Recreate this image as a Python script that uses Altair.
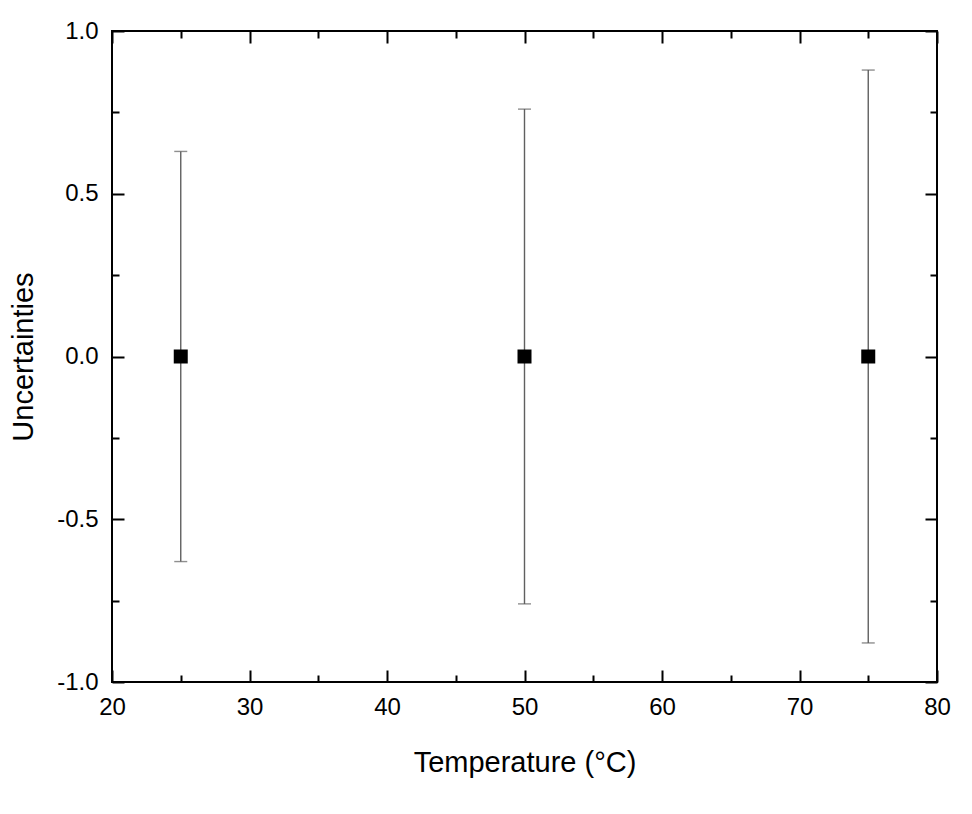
import altair as alt
import pandas as pd

temps = [25, 50, 75]
values = [0.0, 0.0, 0.0]
errors = [0.63, 0.76, 0.88]

x_ticks = [20, 25, 30, 35, 40, 45, 50, 55, 60, 65, 70, 75, 80]
y_ticks = [-1.0, -0.75, -0.5, -0.25, 0.0, 0.25, 0.5, 0.75, 1.0]

W, H = 825, 651
MAJ, MIN = 12, 7

df = pd.DataFrame({"t": temps, "v": values, "e": errors})
df["lo"] = df["v"] - df["e"]
df["hi"] = df["v"] + df["e"]

FONT = "Liberation Sans"

x_axis = alt.Axis(
    values=x_ticks,
    title="Temperature (°C)",
    labelExpr="datum.value % 10 === 0 ? datum.label : ''",
    ticks=False, tickSize=0, domain=False,
    labelFlush=False, labelOverlap=False,
    labelPadding=13, labelFontSize=24, labelFont=FONT, labelColor="black",
    titleFontSize=29, titleFont=FONT, titleFontWeight="normal", titleColor="black",
    titlePadding=29,
    grid=True, gridColor="black", gridWidth=2, gridOpacity=1,
    gridDash=alt.condition("datum.value % 10 === 0",
                           alt.value([MAJ, H - 2 * MAJ, MAJ, 3000]),
                           alt.value([MIN, H - 2 * MIN, MIN, 3000])),
)
y_axis = alt.Axis(
    values=y_ticks,
    title="Uncertainties",
    labelExpr="datum.value % 0.5 === 0 ? replace(format(datum.value, '.1f'), '\u2212', '-') : ''",
    ticks=False, tickSize=0, domain=False,
    labelFlush=False, labelOverlap=False,
    labelPadding=14, labelFontSize=24, labelFont=FONT, labelColor="black",
    titleFontSize=29, titleFont=FONT, titleFontWeight="normal", titleColor="black",
    titlePadding=18,
    grid=True, gridColor="black", gridWidth=2, gridOpacity=1,
    gridDash=alt.condition("datum.value % 0.5 === 0",
                           alt.value([MAJ, W - 2 * MAJ, MAJ, 3000]),
                           alt.value([MIN, W - 2 * MIN, MIN, 3000])),
)

xs = alt.Scale(domain=[20, 80], nice=False, zero=False)
ys = alt.Scale(domain=[-1, 1], nice=False, zero=False)

base = alt.Chart(df)

bars = base.mark_rule(color="#606060", strokeWidth=1.4).encode(
    x=alt.X("t:Q", scale=xs, axis=x_axis),
    y=alt.Y("lo:Q", scale=ys, axis=y_axis),
    y2="hi:Q",
)
cap_hi = base.mark_tick(orient="horizontal", size=13, thickness=1.4, color="#606060").encode(
    x="t:Q", y="hi:Q"
)
cap_lo = base.mark_tick(orient="horizontal", size=13, thickness=1.4, color="#606060").encode(
    x="t:Q", y="lo:Q"
)
pts = base.mark_square(size=196, color="black", opacity=1, filled=True).encode(
    x="t:Q", y="v:Q"
)

chart = alt.layer(bars, cap_hi, cap_lo, pts).properties(
    width=W, height=H,
    background="white",
    autosize=alt.AutoSizeParams(type="none"),
    padding={"left": 104, "top": 23, "right": 20, "bottom": 100},
).configure_view(stroke="black", strokeWidth=2)

chart.save("out.html", embed_options={"renderer": "svg", "actions": False})
